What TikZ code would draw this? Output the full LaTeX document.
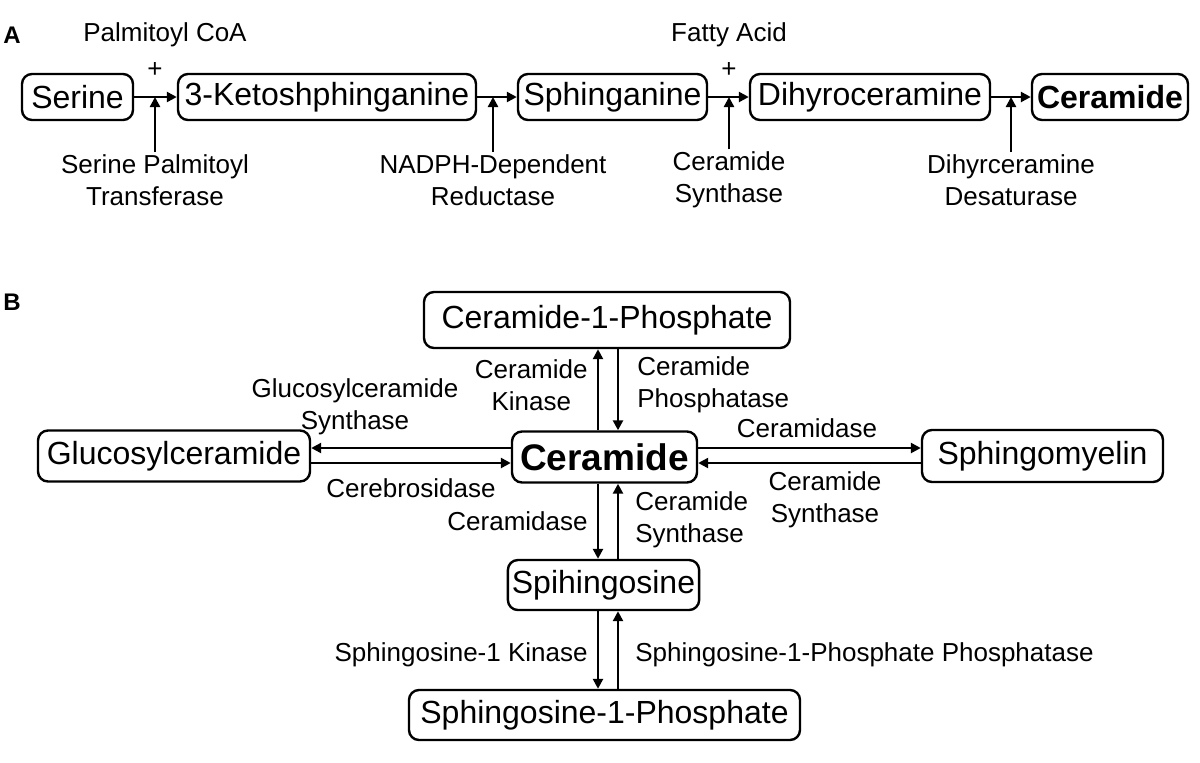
\documentclass[tikz,border=0pt]{standalone}
\usepackage{fontspec}
\setmainfont{Liberation Sans}
\usetikzlibrary{arrows.meta}
\begin{document}
\begin{tikzpicture}[x=0.5pt,y=-0.5pt,
 box/.style={draw,line width=1.2pt,rounded corners=5pt,minimum height=23pt,inner xsep=2pt,font=\fontsize{16}{18}\selectfont},
 lab/.style={font=\fontsize{13}{16}\selectfont,align=center,inner sep=1pt},
 ar/.style={-{Triangle[length=5pt,width=5pt]},line width=1.2pt}]
\useasboundingbox (0,0) rectangle (1200,762);
\node[font=\bfseries\fontsize{12}{14}\selectfont] (A) at (12,35) {A};
\node[font=\bfseries\fontsize{12}{14}\selectfont] (B) at (12,302) {B};
% Panel A
\node[box,minimum width=55.5pt] (ser) at (77.5,97) {Serine};
\node[box,minimum width=149pt] (ket) at (327,97) {3-Ketoshphinganine};
\node[box,minimum width=94.5pt] (sph) at (612.5,97) {Sphinganine};
\node[box,minimum width=120pt] (dih) at (870,97) {Dihyroceramine};
\node[box,minimum width=78pt,font=\bfseries\fontsize{16}{18}\selectfont] (cer) at (1110,97) {Ceramide};
\draw[ar] (ser) -- (ket);
\draw[ar] (ket) -- (sph);
\draw[ar] (sph) -- (dih);
\draw[ar] (dih) -- (cer);
\node[lab] (pc) at (165,35) {Palmitoyl CoA};
\node[lab] (fa) at (729,35) {Fatty Acid};
\node[lab] (p1) at (155,70) {+};
\node[lab] (p2) at (729,70) {+};
\node[lab] (e1) at (155,180) {Serine Palmitoyl\\Transferase};
\node[lab] (e2) at (493,180) {NADPH-Dependent\\Reductase};
\node[lab] (e3) at (729,180) {Ceramide\\Synthase};
\node[lab] (e4) at (1011,180) {Dihyrceramine\\Desaturase};
\coordinate (t1) at (155,97); \coordinate (t2) at (493,97);
\coordinate (t3) at (729,97); \coordinate (t4) at (1011,97);
\draw[ar] (e1.north -| t1) -- (t1);
\draw[ar] (e2.north -| t2) -- (t2);
\draw[ar] (e3.north -| t3) -- (t3);
\draw[ar] (e4.north -| t4) -- (t4);
% Panel B
\node[box,minimum width=183pt,minimum height=28pt] (c1p) at (607,320) {Ceramide-1-Phosphate};
\node[box,minimum width=92.5pt,minimum height=25.5pt,font=\bfseries\fontsize{18.5}{20}\selectfont] (cb) at (604.5,457) {Ceramide};
\node[box,minimum width=136pt,minimum height=25.5pt] (glu) at (174,456) {Glucosylceramide};
\node[box,minimum width=120.5pt,minimum height=26pt] (sm) at (1042.5,456) {Sphingomyelin};
\node[box,minimum width=93.5pt,minimum height=25pt] (spi) at (603.5,585) {Spihingosine};
\node[box,minimum width=195.5pt,minimum height=25pt] (s1p) at (604.5,715) {Sphingosine-1-Phosphate};
\coordinate (L) at (598,0); \coordinate (R) at (618,0);
\coordinate (U) at (0,448); \coordinate (D) at (0,463);
\draw[ar] (cb.north -| L) -- (c1p.south -| L);
\draw[ar] (c1p.south -| R) -- (cb.north -| R);
\draw[ar] (cb.south -| L) -- (spi.north -| L);
\draw[ar] (spi.north -| R) -- (cb.south -| R);
\draw[ar] (spi.south -| L) -- (s1p.north -| L);
\draw[ar] (s1p.north -| R) -- (spi.south -| R);
\draw[ar] (cb.west |- U) -- (glu.east |- U);
\draw[ar] (glu.east |- D) -- (cb.west |- D);
\draw[ar] (cb.east |- U) -- (sm.west |- U);
\draw[ar] (sm.west |- D) -- (cb.east |- D);
\node[lab,anchor=east] (k1) at (590,385) {Ceramide\\Kinase};
\node[lab,anchor=west,align=left] (k2) at (635,385) {Ceramide\\Phosphatase};
\node[lab] (g1) at (355,407) {Glucosylceramide\\Synthase};
\node[lab] (g2) at (411,488) {Cerebrosidase};
\node[lab] (m1) at (807,428) {Ceramidase};
\node[lab] (m2) at (825,500) {Ceramide\\Synthase};
\node[lab,anchor=east] (d1) at (590,521) {Ceramidase};
\node[lab,anchor=west,align=left] (d2) at (633,520) {Ceramide\\Synthase};
\node[lab,anchor=east] (f1) at (590,655) {Sphingosine-1 Kinase};
\node[lab,anchor=west] (f2) at (633,655) {Sphingosine-1-Phosphate Phosphatase};
\end{tikzpicture}
\end{document}
